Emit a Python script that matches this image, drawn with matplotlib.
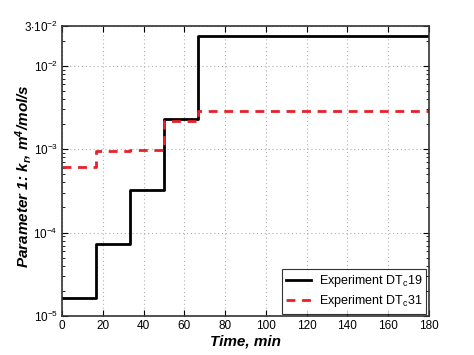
import matplotlib
matplotlib.use("Agg")
import matplotlib.pyplot as plt
import numpy as np
from matplotlib.ticker import FixedLocator, LogLocator, NullFormatter

plt.rcParams['font.family'] = ['Liberation Sans', 'DejaVu Sans']
plt.rcParams['mathtext.fontset'] = 'custom'
plt.rcParams['mathtext.rm'] = 'Liberation Sans'
plt.rcParams['mathtext.it'] = 'Liberation Sans:italic'
plt.rcParams['mathtext.bf'] = 'Liberation Sans:bold:italic'

# step boundaries (min)
t_edges = [0, 16.67, 33.33, 50, 66.67, 180]
k_dt19 = [1.64e-5, 7.3e-5, 3.2e-4, 2.3e-3, 2.25e-2]
k_dt31 = [6.1e-4, 9.4e-4, 9.8e-4, 2.15e-3, 2.9e-3]

labels = ['Experiment DT$_\\mathrm{c}$19', 'Experiment DT$_\\mathrm{c}$31']

fig = plt.figure(figsize=(4.74, 3.55), dpi=100)
ax = fig.add_axes([62/474, 1-316/355, (429-62)/474, (316-26)/355])

x = np.array(t_edges)
y19 = np.append(k_dt19, k_dt19[-1])
y31 = np.append(k_dt31, k_dt31[-1])
ax.step(x, y19, where='post', color='black', lw=2, label=labels[0])
ax.step(x, y31, where='post', color='#e8202a', lw=2, ls=(0, (3.2, 2.4)), label=labels[1])

ax.set_yscale('log')
ax.set_xlim(0, 180)
ax.set_ylim(1e-5, 3e-2)
ax.set_xticks(np.arange(0, 181, 20))
ax.yaxis.set_major_locator(FixedLocator([1e-5, 1e-4, 1e-3, 1e-2, 3e-2]))
ax.set_yticklabels(['$10^{-5}$', '$10^{-4}$', '$10^{-3}$', '$10^{-2}$', '$3{\\cdot}10^{-2}$'])
ax.yaxis.set_minor_locator(LogLocator(base=10, subs=np.arange(2, 10)))
ax.yaxis.set_minor_formatter(NullFormatter())
ax.tick_params(which='both', direction='in', top=True, right=True, labelsize=8.5, pad=3)
ax.tick_params(which='major', length=4)
ax.tick_params(which='minor', length=2)
ax.grid(True, which='major', ls=(0, (1, 2.5)), color='#b0b0b0', lw=0.8)
for s in ax.spines.values():
    s.set_linewidth(1.2)
    s.set_color('#333333')

ax.set_xlabel('Time, min', fontsize=11, fontweight='bold', fontstyle='italic')
ax.xaxis.set_label_coords(0.5, -(334 - 316) / 290)
ax.set_ylabel('Parameter 1: k$_\\mathbf{r}$, m$^\\mathbf{4}$/mol/s', fontsize=11, fontweight='bold',
              fontstyle='italic', va='center')
ax.yaxis.set_label_coords((24 - 62) / 367, (316 - 176) / 290)

leg = ax.legend(loc='lower right', fontsize=9, frameon=True, fancybox=False, edgecolor='black',
                borderaxespad=0.2, handlelength=2.0, labelspacing=0.3, borderpad=0.35,
                handletextpad=0.6)
leg.get_frame().set_linewidth(0.8)

fig.savefig('out.png', dpi=100)
